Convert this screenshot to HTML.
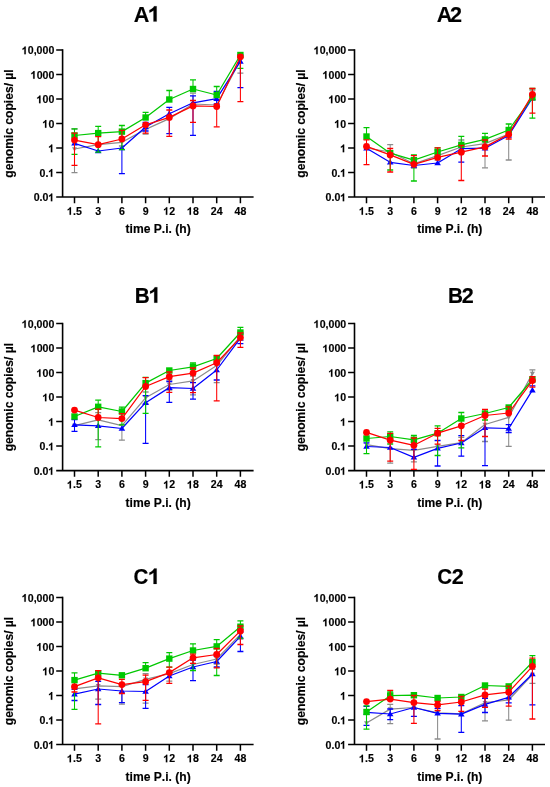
<!DOCTYPE html><html><head><meta charset="utf-8"><style>html,body{margin:0;padding:0;background:#fff;}svg{display:block;will-change:transform;}text{font-family:'Liberation Sans',sans-serif;font-weight:bold;fill:#000;font-kerning:none;stroke:#000;stroke-width:0.15px;}path.o{stroke:#000;stroke-width:0.15px;vector-effect:non-scaling-stroke;}</style></head><body>
<svg width="550" height="787" viewBox="0 0 550 787">
<rect width="550" height="787" fill="#fff"/>
<g><g transform="translate(134.4,21.6) scale(1.0,1.04)"><text x="-0.54" y="0" font-size="21.6">A</text></g><path class="o" d="M367 0H230V517Q155 447 53 413V538Q106 555 169 604Q232 653 256 716H367Z" transform="translate(148.18,21.6) scale(0.02311,-0.02159)"/><path d="M62.6 49.2V197" stroke="#000" stroke-width="1.6" fill="none"/><path d="M56.2 197H253.6" stroke="#000" stroke-width="1.6" fill="none"/><path d="M56.2 50H62.6M56.2 74.5H62.6M56.2 99H62.6M56.2 123.5H62.6M56.2 148H62.6M56.2 172.5H62.6M74.5 197V203.2M98.2 197V203.2M121.9 197V203.2M145.6 197V203.2M169.3 197V203.2M193 197V203.2M216.7 197V203.2M240.4 197V203.2" stroke="#000" stroke-width="1.5" fill="none"/><g transform="translate(54.3,54.2) scale(1,1.04)"><text x="-32.41" y="0" font-size="10.6"> 0,000</text><path class="o" d="M367 0H230V517Q155 447 53 413V538Q106 555 169 604Q232 653 256 716H367Z" transform="translate(-32.41,0) scale(0.01060,-0.01019)"/></g><g transform="translate(54.3,78.7) scale(1,1.04)"><text x="-23.57" y="0" font-size="10.6"> 000</text><path class="o" d="M367 0H230V517Q155 447 53 413V538Q106 555 169 604Q232 653 256 716H367Z" transform="translate(-23.57,0) scale(0.01060,-0.01019)"/></g><g transform="translate(54.3,103.2) scale(1,1.04)"><text x="-17.68" y="0" font-size="10.6"> 00</text><path class="o" d="M367 0H230V517Q155 447 53 413V538Q106 555 169 604Q232 653 256 716H367Z" transform="translate(-17.68,0) scale(0.01060,-0.01019)"/></g><g transform="translate(54.3,127.7) scale(1,1.04)"><text x="-11.79" y="0" font-size="10.6"> 0</text><path class="o" d="M367 0H230V517Q155 447 53 413V538Q106 555 169 604Q232 653 256 716H367Z" transform="translate(-11.79,0) scale(0.01060,-0.01019)"/></g><g transform="translate(54.3,152.2) scale(1,1.04)"><text x="-5.89" y="0" font-size="10.6"> </text><path class="o" d="M367 0H230V517Q155 447 53 413V538Q106 555 169 604Q232 653 256 716H367Z" transform="translate(-5.89,0) scale(0.01060,-0.01019)"/></g><g transform="translate(54.3,176.7) scale(1,1.04)"><text x="-14.73" y="0" font-size="10.6">0. </text><path class="o" d="M367 0H230V517Q155 447 53 413V538Q106 555 169 604Q232 653 256 716H367Z" transform="translate(-5.89,0) scale(0.01060,-0.01019)"/></g><g transform="translate(54.3,201.2) scale(1,1.04)"><text x="-20.63" y="0" font-size="10.6">0.0 </text><path class="o" d="M367 0H230V517Q155 447 53 413V538Q106 555 169 604Q232 653 256 716H367Z" transform="translate(-5.89,0) scale(0.01060,-0.01019)"/></g><g transform="translate(74.5,214.8) scale(1,1.04)"><text x="-7.37" y="0" font-size="10.6"> .5</text><path class="o" d="M367 0H230V517Q155 447 53 413V538Q106 555 169 604Q232 653 256 716H367Z" transform="translate(-7.37,0) scale(0.01060,-0.01019)"/></g><g transform="translate(98.2,214.8) scale(1,1.04)"><text x="-2.95" y="0" font-size="10.6">3</text></g><g transform="translate(121.9,214.8) scale(1,1.04)"><text x="-2.95" y="0" font-size="10.6">6</text></g><g transform="translate(145.6,214.8) scale(1,1.04)"><text x="-2.95" y="0" font-size="10.6">9</text></g><g transform="translate(169.3,214.8) scale(1,1.04)"><text x="-5.89" y="0" font-size="10.6"> 2</text><path class="o" d="M367 0H230V517Q155 447 53 413V538Q106 555 169 604Q232 653 256 716H367Z" transform="translate(-5.89,0) scale(0.01060,-0.01019)"/></g><g transform="translate(193,214.8) scale(1,1.04)"><text x="-5.89" y="0" font-size="10.6"> 8</text><path class="o" d="M367 0H230V517Q155 447 53 413V538Q106 555 169 604Q232 653 256 716H367Z" transform="translate(-5.89,0) scale(0.01060,-0.01019)"/></g><g transform="translate(216.7,214.8) scale(1,1.04)"><text x="-5.89" y="0" font-size="10.6">24</text></g><g transform="translate(240.4,214.8) scale(1,1.04)"><text x="-5.89" y="0" font-size="10.6">48</text></g><text x="0" y="0" font-size="12.1" text-anchor="middle" transform="translate(158.1,233) scale(1,1.04)">time P.i. (h)</text><text x="0" y="0" font-size="12.1" text-anchor="middle" transform="translate(13.1,123.5) rotate(-90) scale(1,1.04)">genomic copies/ µl</text><path d="M74.5 149V129 M74.5 149V172.7 M121.9 142.3V138 M121.9 142.3V146 M145.6 129.4V125 M145.6 129.4V134 M193 104V93.2 M216.7 105V100 M240.4 60V73.2" stroke="#8c8c8c" stroke-width="1.05" fill="none"/><path d="M71.5 129H77.5 M71.5 172.7H77.5 M118.9 138H124.9 M118.9 146H124.9 M142.6 125H148.6 M142.6 134H148.6 M190 93.2H196 M213.7 100H219.7 M237.4 73.2H243.4" stroke="#8c8c8c" stroke-width="1.3" fill="none"/><polyline points="74.5,149 98.2,144.7 121.9,142.3 145.6,129.4 169.3,118.6 193,104 216.7,105 240.4,60" stroke="#8c8c8c" stroke-width="1.25" fill="none" stroke-linejoin="round"/><path d="M72 147.2L77 147.2L74.5 151.4Z" fill="#8c8c8c"/><path d="M95.7 142.9L100.7 142.9L98.2 147.1Z" fill="#8c8c8c"/><path d="M119.4 140.5L124.4 140.5L121.9 144.7Z" fill="#8c8c8c"/><path d="M143.1 127.6L148.1 127.6L145.6 131.8Z" fill="#8c8c8c"/><path d="M166.8 116.8L171.8 116.8L169.3 121Z" fill="#8c8c8c"/><path d="M190.5 102.2L195.5 102.2L193 106.4Z" fill="#8c8c8c"/><path d="M214.2 103.2L219.2 103.2L216.7 107.4Z" fill="#8c8c8c"/><path d="M237.9 58.2L242.9 58.2L240.4 62.4Z" fill="#8c8c8c"/><path d="M121.9 148V173.6 M145.6 127V122.5 M145.6 127V131 M169.3 113.7V107.4 M169.3 113.7V133.7 M193 102.8V95.9 M193 102.8V135.4 M216.7 98.6V91.4 M216.7 98.6V104 M240.4 61.4V55 M240.4 61.4V87.7" stroke="#0000ff" stroke-width="1.05" fill="none"/><path d="M118.9 173.6H124.9 M142.6 122.5H148.6 M142.6 131H148.6 M166.3 107.4H172.3 M166.3 133.7H172.3 M190 95.9H196 M190 135.4H196 M213.7 91.4H219.7 M213.7 104H219.7 M237.4 55H243.4 M237.4 87.7H243.4" stroke="#0000ff" stroke-width="1.3" fill="none"/><polyline points="74.5,143.3 98.2,151 121.9,148 145.6,127 169.3,113.7 193,102.8 216.7,98.6 240.4,61.4" stroke="#0000ff" stroke-width="1.25" fill="none" stroke-linejoin="round"/><path d="M74.5 140.2L77.8 145.6L71.2 145.6Z" fill="#0000ff"/><path d="M98.2 147.9L101.5 153.3L94.9 153.3Z" fill="#0000ff"/><path d="M121.9 144.9L125.2 150.3L118.6 150.3Z" fill="#0000ff"/><path d="M145.6 123.9L148.9 129.3L142.3 129.3Z" fill="#0000ff"/><path d="M169.3 110.6L172.6 116L166 116Z" fill="#0000ff"/><path d="M193 99.7L196.3 105.1L189.7 105.1Z" fill="#0000ff"/><path d="M216.7 95.5L220 100.9L213.4 100.9Z" fill="#0000ff"/><path d="M240.4 58.3L243.7 63.7L237.1 63.7Z" fill="#0000ff"/><path d="M74.5 135.5V128.8 M74.5 135.5V154.3 M98.2 133.1V126.4 M98.2 133.1V152.2 M121.9 131.6V125.5 M121.9 131.6V149.6 M145.6 117.5V112.3 M169.3 99.5V90.5 M193 89V79.9 M216.7 95V86.5 M240.4 55V68.3" stroke="#00c800" stroke-width="1.05" fill="none"/><path d="M71.5 128.8H77.5 M71.5 154.3H77.5 M95.2 126.4H101.2 M95.2 152.2H101.2 M118.9 125.5H124.9 M118.9 149.6H124.9 M142.6 112.3H148.6 M166.3 90.5H172.3 M190 79.9H196 M213.7 86.5H219.7 M237.4 68.3H243.4" stroke="#00c800" stroke-width="1.3" fill="none"/><polyline points="74.5,135.5 98.2,133.1 121.9,131.6 145.6,117.5 169.3,99.5 193,89 216.7,95 240.4,55" stroke="#00c800" stroke-width="1.25" fill="none" stroke-linejoin="round"/><rect x="71.3" y="132.3" width="6.4" height="6.4" fill="#00c800"/><rect x="95" y="129.9" width="6.4" height="6.4" fill="#00c800"/><rect x="118.7" y="128.4" width="6.4" height="6.4" fill="#00c800"/><rect x="142.4" y="114.3" width="6.4" height="6.4" fill="#00c800"/><rect x="166.1" y="96.3" width="6.4" height="6.4" fill="#00c800"/><rect x="189.8" y="85.8" width="6.4" height="6.4" fill="#00c800"/><rect x="213.5" y="91.8" width="6.4" height="6.4" fill="#00c800"/><rect x="237.2" y="51.8" width="6.4" height="6.4" fill="#00c800"/><path d="M74.5 140.1V133.2 M74.5 140.1V165.4 M98.2 144.7V136.6 M121.9 139V130.4 M145.6 124.8V133.2 M169.3 117.4V110 M169.3 117.4V136.3 M193 105.9V100.5 M193 105.9V122.3 M216.7 106.5V126.8 M240.4 56.8V101.7" stroke="#ff0000" stroke-width="1.05" fill="none"/><path d="M71.5 133.2H77.5 M71.5 165.4H77.5 M95.2 136.6H101.2 M118.9 130.4H124.9 M142.6 133.2H148.6 M166.3 110H172.3 M166.3 136.3H172.3 M190 100.5H196 M190 122.3H196 M213.7 126.8H219.7 M237.4 101.7H243.4" stroke="#ff0000" stroke-width="1.3" fill="none"/><polyline points="74.5,140.1 98.2,144.7 121.9,139 145.6,124.8 169.3,117.4 193,105.9 216.7,106.5 240.4,56.8" stroke="#ff0000" stroke-width="1.25" fill="none" stroke-linejoin="round"/><circle cx="74.5" cy="140.1" r="3.4" fill="#ff0000"/><circle cx="98.2" cy="144.7" r="3.4" fill="#ff0000"/><circle cx="121.9" cy="139" r="3.4" fill="#ff0000"/><circle cx="145.6" cy="124.8" r="3.4" fill="#ff0000"/><circle cx="169.3" cy="117.4" r="3.4" fill="#ff0000"/><circle cx="193" cy="105.9" r="3.4" fill="#ff0000"/><circle cx="216.7" cy="106.5" r="3.4" fill="#ff0000"/><circle cx="240.4" cy="56.8" r="3.4" fill="#ff0000"/></g>
<g><g transform="translate(437.2,21.7) scale(1.0,1.04)"><text x="-0.54" y="0" font-size="21.6">A</text></g><g transform="translate(450.8,21.7) scale(1,1.04)"><text x="-0.76" y="0" font-size="21.6">2</text></g><path d="M354.5 49.2V197" stroke="#000" stroke-width="1.6" fill="none"/><path d="M348.1 197H545" stroke="#000" stroke-width="1.6" fill="none"/><path d="M348.1 50H354.5M348.1 74.5H354.5M348.1 99H354.5M348.1 123.5H354.5M348.1 148H354.5M348.1 172.5H354.5M366.5 197V203.2M390.2 197V203.2M413.9 197V203.2M437.6 197V203.2M461.3 197V203.2M485 197V203.2M508.7 197V203.2M532.4 197V203.2" stroke="#000" stroke-width="1.5" fill="none"/><g transform="translate(346.2,54.2) scale(1,1.04)"><text x="-32.41" y="0" font-size="10.6"> 0,000</text><path class="o" d="M367 0H230V517Q155 447 53 413V538Q106 555 169 604Q232 653 256 716H367Z" transform="translate(-32.41,0) scale(0.01060,-0.01019)"/></g><g transform="translate(346.2,78.7) scale(1,1.04)"><text x="-23.57" y="0" font-size="10.6"> 000</text><path class="o" d="M367 0H230V517Q155 447 53 413V538Q106 555 169 604Q232 653 256 716H367Z" transform="translate(-23.57,0) scale(0.01060,-0.01019)"/></g><g transform="translate(346.2,103.2) scale(1,1.04)"><text x="-17.68" y="0" font-size="10.6"> 00</text><path class="o" d="M367 0H230V517Q155 447 53 413V538Q106 555 169 604Q232 653 256 716H367Z" transform="translate(-17.68,0) scale(0.01060,-0.01019)"/></g><g transform="translate(346.2,127.7) scale(1,1.04)"><text x="-11.79" y="0" font-size="10.6"> 0</text><path class="o" d="M367 0H230V517Q155 447 53 413V538Q106 555 169 604Q232 653 256 716H367Z" transform="translate(-11.79,0) scale(0.01060,-0.01019)"/></g><g transform="translate(346.2,152.2) scale(1,1.04)"><text x="-5.89" y="0" font-size="10.6"> </text><path class="o" d="M367 0H230V517Q155 447 53 413V538Q106 555 169 604Q232 653 256 716H367Z" transform="translate(-5.89,0) scale(0.01060,-0.01019)"/></g><g transform="translate(346.2,176.7) scale(1,1.04)"><text x="-14.73" y="0" font-size="10.6">0. </text><path class="o" d="M367 0H230V517Q155 447 53 413V538Q106 555 169 604Q232 653 256 716H367Z" transform="translate(-5.89,0) scale(0.01060,-0.01019)"/></g><g transform="translate(346.2,201.2) scale(1,1.04)"><text x="-20.63" y="0" font-size="10.6">0.0 </text><path class="o" d="M367 0H230V517Q155 447 53 413V538Q106 555 169 604Q232 653 256 716H367Z" transform="translate(-5.89,0) scale(0.01060,-0.01019)"/></g><g transform="translate(366.5,214.8) scale(1,1.04)"><text x="-7.37" y="0" font-size="10.6"> .5</text><path class="o" d="M367 0H230V517Q155 447 53 413V538Q106 555 169 604Q232 653 256 716H367Z" transform="translate(-7.37,0) scale(0.01060,-0.01019)"/></g><g transform="translate(390.2,214.8) scale(1,1.04)"><text x="-2.95" y="0" font-size="10.6">3</text></g><g transform="translate(413.9,214.8) scale(1,1.04)"><text x="-2.95" y="0" font-size="10.6">6</text></g><g transform="translate(437.6,214.8) scale(1,1.04)"><text x="-2.95" y="0" font-size="10.6">9</text></g><g transform="translate(461.3,214.8) scale(1,1.04)"><text x="-5.89" y="0" font-size="10.6"> 2</text><path class="o" d="M367 0H230V517Q155 447 53 413V538Q106 555 169 604Q232 653 256 716H367Z" transform="translate(-5.89,0) scale(0.01060,-0.01019)"/></g><g transform="translate(485,214.8) scale(1,1.04)"><text x="-5.89" y="0" font-size="10.6"> 8</text><path class="o" d="M367 0H230V517Q155 447 53 413V538Q106 555 169 604Q232 653 256 716H367Z" transform="translate(-5.89,0) scale(0.01060,-0.01019)"/></g><g transform="translate(508.7,214.8) scale(1,1.04)"><text x="-5.89" y="0" font-size="10.6">24</text></g><g transform="translate(532.4,214.8) scale(1,1.04)"><text x="-5.89" y="0" font-size="10.6">48</text></g><text x="0" y="0" font-size="12.1" text-anchor="middle" transform="translate(449.75,233) scale(1,1.04)">time P.i. (h)</text><text x="0" y="0" font-size="12.1" text-anchor="middle" transform="translate(305,123.5) rotate(-90) scale(1,1.04)">genomic copies/ µl</text><path d="M390.2 152V144.7 M413.9 163.8V158 M413.9 163.8V168 M437.6 155.6V150 M437.6 155.6V160 M461.3 147V140 M461.3 147V152 M485 143.6V167.8 M508.7 134V160 M532.4 96V90 M532.4 96V100" stroke="#8c8c8c" stroke-width="1.05" fill="none"/><path d="M387.2 144.7H393.2 M410.9 158H416.9 M410.9 168H416.9 M434.6 150H440.6 M434.6 160H440.6 M458.3 140H464.3 M458.3 152H464.3 M482 167.8H488 M505.7 160H511.7 M529.4 90H535.4 M529.4 100H535.4" stroke="#8c8c8c" stroke-width="1.3" fill="none"/><polyline points="366.5,148 390.2,152 413.9,163.8 437.6,155.6 461.3,147 485,143.6 508.7,134 532.4,96" stroke="#8c8c8c" stroke-width="1.25" fill="none" stroke-linejoin="round"/><path d="M364 146.2L369 146.2L366.5 150.4Z" fill="#8c8c8c"/><path d="M387.7 150.2L392.7 150.2L390.2 154.4Z" fill="#8c8c8c"/><path d="M411.4 162L416.4 162L413.9 166.2Z" fill="#8c8c8c"/><path d="M435.1 153.8L440.1 153.8L437.6 158Z" fill="#8c8c8c"/><path d="M458.8 145.2L463.8 145.2L461.3 149.4Z" fill="#8c8c8c"/><path d="M482.5 141.8L487.5 141.8L485 146Z" fill="#8c8c8c"/><path d="M506.2 132.2L511.2 132.2L508.7 136.4Z" fill="#8c8c8c"/><path d="M529.9 94.2L534.9 94.2L532.4 98.4Z" fill="#8c8c8c"/><path d="M461.3 148.7V145 M461.3 148.7V162.2 M532.4 98V94" stroke="#0000ff" stroke-width="1.05" fill="none"/><path d="M458.3 145H464.3 M458.3 162.2H464.3 M529.4 94H535.4" stroke="#0000ff" stroke-width="1.3" fill="none"/><polyline points="366.5,148.3 390.2,162.3 413.9,165.5 437.6,163 461.3,148.7 485,148.2 508.7,135.5 532.4,98" stroke="#0000ff" stroke-width="1.25" fill="none" stroke-linejoin="round"/><path d="M366.5 145.2L369.8 150.6L363.2 150.6Z" fill="#0000ff"/><path d="M390.2 159.2L393.5 164.6L386.9 164.6Z" fill="#0000ff"/><path d="M413.9 162.4L417.2 167.8L410.6 167.8Z" fill="#0000ff"/><path d="M437.6 159.9L440.9 165.3L434.3 165.3Z" fill="#0000ff"/><path d="M461.3 145.6L464.6 151L458 151Z" fill="#0000ff"/><path d="M485 145.1L488.3 150.5L481.7 150.5Z" fill="#0000ff"/><path d="M508.7 132.4L512 137.8L505.4 137.8Z" fill="#0000ff"/><path d="M532.4 94.9L535.7 100.3L529.1 100.3Z" fill="#0000ff"/><path d="M366.5 136.5V127.6 M390.2 153.2V170 M413.9 160.2V154.8 M413.9 160.2V181 M437.6 152V147.8 M437.6 152V156 M461.3 144.9V136.3 M485 139.4V133.4 M508.7 130V124 M532.4 97.3V88.5 M532.4 97.3V118.2" stroke="#00c800" stroke-width="1.05" fill="none"/><path d="M363.5 127.6H369.5 M387.2 170H393.2 M410.9 154.8H416.9 M410.9 181H416.9 M434.6 147.8H440.6 M434.6 156H440.6 M458.3 136.3H464.3 M482 133.4H488 M505.7 124H511.7 M529.4 88.5H535.4 M529.4 118.2H535.4" stroke="#00c800" stroke-width="1.3" fill="none"/><polyline points="366.5,136.5 390.2,153.2 413.9,160.2 437.6,152 461.3,144.9 485,139.4 508.7,130 532.4,97.3" stroke="#00c800" stroke-width="1.25" fill="none" stroke-linejoin="round"/><rect x="363.3" y="133.3" width="6.4" height="6.4" fill="#00c800"/><rect x="387" y="150" width="6.4" height="6.4" fill="#00c800"/><rect x="410.7" y="157" width="6.4" height="6.4" fill="#00c800"/><rect x="434.4" y="148.8" width="6.4" height="6.4" fill="#00c800"/><rect x="458.1" y="141.7" width="6.4" height="6.4" fill="#00c800"/><rect x="481.8" y="136.2" width="6.4" height="6.4" fill="#00c800"/><rect x="505.5" y="126.8" width="6.4" height="6.4" fill="#00c800"/><rect x="529.2" y="94.1" width="6.4" height="6.4" fill="#00c800"/><path d="M366.5 146.4V139.9 M366.5 146.4V164.6 M390.2 154.9V148.5 M390.2 154.9V172 M413.9 164.3V155.6 M437.6 157.4V147.8 M461.3 152.2V145.5 M461.3 152.2V180.5 M485 146.9V140 M485 146.9V156 M508.7 134.4V139 M532.4 94.5V88.5 M532.4 94.5V113.1" stroke="#ff0000" stroke-width="1.05" fill="none"/><path d="M363.5 139.9H369.5 M363.5 164.6H369.5 M387.2 148.5H393.2 M387.2 172H393.2 M410.9 155.6H416.9 M434.6 147.8H440.6 M458.3 145.5H464.3 M458.3 180.5H464.3 M482 140H488 M482 156H488 M505.7 139H511.7 M529.4 88.5H535.4 M529.4 113.1H535.4" stroke="#ff0000" stroke-width="1.3" fill="none"/><polyline points="366.5,146.4 390.2,154.9 413.9,164.3 437.6,157.4 461.3,152.2 485,146.9 508.7,134.4 532.4,94.5" stroke="#ff0000" stroke-width="1.25" fill="none" stroke-linejoin="round"/><circle cx="366.5" cy="146.4" r="3.4" fill="#ff0000"/><circle cx="390.2" cy="154.9" r="3.4" fill="#ff0000"/><circle cx="413.9" cy="164.3" r="3.4" fill="#ff0000"/><circle cx="437.6" cy="157.4" r="3.4" fill="#ff0000"/><circle cx="461.3" cy="152.2" r="3.4" fill="#ff0000"/><circle cx="485" cy="146.9" r="3.4" fill="#ff0000"/><circle cx="508.7" cy="134.4" r="3.4" fill="#ff0000"/><circle cx="532.4" cy="94.5" r="3.4" fill="#ff0000"/></g>
<g><g transform="translate(136.1,302.7) scale(0.96,1.04)"><text x="-1.45" y="0" font-size="21.6">B</text></g><path class="o" d="M367 0H230V517Q155 447 53 413V538Q106 555 169 604Q232 653 256 716H367Z" transform="translate(148.88,302.7) scale(0.02311,-0.02159)"/><path d="M62.6 322.8V470.6" stroke="#000" stroke-width="1.6" fill="none"/><path d="M56.2 470.6H253.6" stroke="#000" stroke-width="1.6" fill="none"/><path d="M56.2 323.6H62.6M56.2 348.1H62.6M56.2 372.6H62.6M56.2 397.1H62.6M56.2 421.6H62.6M56.2 446.1H62.6M74.5 470.6V476.8M98.2 470.6V476.8M121.9 470.6V476.8M145.6 470.6V476.8M169.3 470.6V476.8M193 470.6V476.8M216.7 470.6V476.8M240.4 470.6V476.8" stroke="#000" stroke-width="1.5" fill="none"/><g transform="translate(54.3,327.8) scale(1,1.04)"><text x="-32.41" y="0" font-size="10.6"> 0,000</text><path class="o" d="M367 0H230V517Q155 447 53 413V538Q106 555 169 604Q232 653 256 716H367Z" transform="translate(-32.41,0) scale(0.01060,-0.01019)"/></g><g transform="translate(54.3,352.3) scale(1,1.04)"><text x="-23.57" y="0" font-size="10.6"> 000</text><path class="o" d="M367 0H230V517Q155 447 53 413V538Q106 555 169 604Q232 653 256 716H367Z" transform="translate(-23.57,0) scale(0.01060,-0.01019)"/></g><g transform="translate(54.3,376.8) scale(1,1.04)"><text x="-17.68" y="0" font-size="10.6"> 00</text><path class="o" d="M367 0H230V517Q155 447 53 413V538Q106 555 169 604Q232 653 256 716H367Z" transform="translate(-17.68,0) scale(0.01060,-0.01019)"/></g><g transform="translate(54.3,401.3) scale(1,1.04)"><text x="-11.79" y="0" font-size="10.6"> 0</text><path class="o" d="M367 0H230V517Q155 447 53 413V538Q106 555 169 604Q232 653 256 716H367Z" transform="translate(-11.79,0) scale(0.01060,-0.01019)"/></g><g transform="translate(54.3,425.8) scale(1,1.04)"><text x="-5.89" y="0" font-size="10.6"> </text><path class="o" d="M367 0H230V517Q155 447 53 413V538Q106 555 169 604Q232 653 256 716H367Z" transform="translate(-5.89,0) scale(0.01060,-0.01019)"/></g><g transform="translate(54.3,450.3) scale(1,1.04)"><text x="-14.73" y="0" font-size="10.6">0. </text><path class="o" d="M367 0H230V517Q155 447 53 413V538Q106 555 169 604Q232 653 256 716H367Z" transform="translate(-5.89,0) scale(0.01060,-0.01019)"/></g><g transform="translate(54.3,474.8) scale(1,1.04)"><text x="-20.63" y="0" font-size="10.6">0.0 </text><path class="o" d="M367 0H230V517Q155 447 53 413V538Q106 555 169 604Q232 653 256 716H367Z" transform="translate(-5.89,0) scale(0.01060,-0.01019)"/></g><g transform="translate(74.5,488.4) scale(1,1.04)"><text x="-7.37" y="0" font-size="10.6"> .5</text><path class="o" d="M367 0H230V517Q155 447 53 413V538Q106 555 169 604Q232 653 256 716H367Z" transform="translate(-7.37,0) scale(0.01060,-0.01019)"/></g><g transform="translate(98.2,488.4) scale(1,1.04)"><text x="-2.95" y="0" font-size="10.6">3</text></g><g transform="translate(121.9,488.4) scale(1,1.04)"><text x="-2.95" y="0" font-size="10.6">6</text></g><g transform="translate(145.6,488.4) scale(1,1.04)"><text x="-2.95" y="0" font-size="10.6">9</text></g><g transform="translate(169.3,488.4) scale(1,1.04)"><text x="-5.89" y="0" font-size="10.6"> 2</text><path class="o" d="M367 0H230V517Q155 447 53 413V538Q106 555 169 604Q232 653 256 716H367Z" transform="translate(-5.89,0) scale(0.01060,-0.01019)"/></g><g transform="translate(193,488.4) scale(1,1.04)"><text x="-5.89" y="0" font-size="10.6"> 8</text><path class="o" d="M367 0H230V517Q155 447 53 413V538Q106 555 169 604Q232 653 256 716H367Z" transform="translate(-5.89,0) scale(0.01060,-0.01019)"/></g><g transform="translate(216.7,488.4) scale(1,1.04)"><text x="-5.89" y="0" font-size="10.6">24</text></g><g transform="translate(240.4,488.4) scale(1,1.04)"><text x="-5.89" y="0" font-size="10.6">48</text></g><text x="0" y="0" font-size="12.1" text-anchor="middle" transform="translate(158.1,506.6) scale(1,1.04)">time P.i. (h)</text><text x="0" y="0" font-size="12.1" text-anchor="middle" transform="translate(13.1,397.1) rotate(-90) scale(1,1.04)">genomic copies/ µl</text><path d="M98.2 419.9V412.6 M98.2 419.9V439.7 M121.9 425.6V440.2 M145.6 397.8V392 M145.6 397.8V404 M169.3 384.5V380 M169.3 384.5V390 M193 380.9V376 M193 380.9V394.9 M216.7 365.5V360 M216.7 365.5V382.7 M240.4 336.4V332 M240.4 336.4V340" stroke="#8c8c8c" stroke-width="1.05" fill="none"/><path d="M95.2 412.6H101.2 M95.2 439.7H101.2 M118.9 440.2H124.9 M142.6 392H148.6 M142.6 404H148.6 M166.3 380H172.3 M166.3 390H172.3 M190 376H196 M190 394.9H196 M213.7 360H219.7 M213.7 382.7H219.7 M237.4 332H243.4 M237.4 340H243.4" stroke="#8c8c8c" stroke-width="1.3" fill="none"/><polyline points="74.5,425.6 98.2,419.9 121.9,425.6 145.6,397.8 169.3,384.5 193,380.9 216.7,365.5 240.4,336.4" stroke="#8c8c8c" stroke-width="1.25" fill="none" stroke-linejoin="round"/><path d="M72 423.8L77 423.8L74.5 428Z" fill="#8c8c8c"/><path d="M95.7 418.1L100.7 418.1L98.2 422.3Z" fill="#8c8c8c"/><path d="M119.4 423.8L124.4 423.8L121.9 428Z" fill="#8c8c8c"/><path d="M143.1 396L148.1 396L145.6 400.2Z" fill="#8c8c8c"/><path d="M166.8 382.7L171.8 382.7L169.3 386.9Z" fill="#8c8c8c"/><path d="M190.5 379.1L195.5 379.1L193 383.3Z" fill="#8c8c8c"/><path d="M214.2 363.7L219.2 363.7L216.7 367.9Z" fill="#8c8c8c"/><path d="M237.9 334.6L242.9 334.6L240.4 338.8Z" fill="#8c8c8c"/><path d="M74.5 424.8V419.5 M74.5 424.8V431.3 M145.6 402.7V395.7 M145.6 402.7V443.3 M169.3 387.6V381.5 M169.3 387.6V402.4 M193 388.5V382.7 M193 388.5V399.1 M216.7 370V364 M216.7 370V380 M240.4 338.2V334 M240.4 338.2V343.6" stroke="#0000ff" stroke-width="1.05" fill="none"/><path d="M71.5 419.5H77.5 M71.5 431.3H77.5 M142.6 395.7H148.6 M142.6 443.3H148.6 M166.3 381.5H172.3 M166.3 402.4H172.3 M190 382.7H196 M190 399.1H196 M213.7 364H219.7 M213.7 380H219.7 M237.4 334H243.4 M237.4 343.6H243.4" stroke="#0000ff" stroke-width="1.3" fill="none"/><polyline points="74.5,424.8 98.2,425.8 121.9,428.5 145.6,402.7 169.3,387.6 193,388.5 216.7,370 240.4,338.2" stroke="#0000ff" stroke-width="1.25" fill="none" stroke-linejoin="round"/><path d="M74.5 421.7L77.8 427.1L71.2 427.1Z" fill="#0000ff"/><path d="M98.2 422.7L101.5 428.1L94.9 428.1Z" fill="#0000ff"/><path d="M121.9 425.4L125.2 430.8L118.6 430.8Z" fill="#0000ff"/><path d="M145.6 399.6L148.9 405L142.3 405Z" fill="#0000ff"/><path d="M169.3 384.5L172.6 389.9L166 389.9Z" fill="#0000ff"/><path d="M193 385.4L196.3 390.8L189.7 390.8Z" fill="#0000ff"/><path d="M216.7 366.9L220 372.3L213.4 372.3Z" fill="#0000ff"/><path d="M240.4 335.1L243.7 340.5L237.1 340.5Z" fill="#0000ff"/><path d="M98.2 406.8V400.2 M98.2 406.8V446.9 M121.9 411.5V407.1 M121.9 411.5V424.9 M145.6 383.1V377.4 M145.6 383.1V413.4 M193 366.9V363 M240.4 332.5V327.3" stroke="#00c800" stroke-width="1.05" fill="none"/><path d="M95.2 400.2H101.2 M95.2 446.9H101.2 M118.9 407.1H124.9 M118.9 424.9H124.9 M142.6 377.4H148.6 M142.6 413.4H148.6 M190 363H196 M237.4 327.3H243.4" stroke="#00c800" stroke-width="1.3" fill="none"/><polyline points="74.5,416.5 98.2,406.8 121.9,411.5 145.6,383.1 169.3,370.5 193,366.9 216.7,358.5 240.4,332.5" stroke="#00c800" stroke-width="1.25" fill="none" stroke-linejoin="round"/><rect x="71.3" y="413.3" width="6.4" height="6.4" fill="#00c800"/><rect x="95" y="403.6" width="6.4" height="6.4" fill="#00c800"/><rect x="118.7" y="408.3" width="6.4" height="6.4" fill="#00c800"/><rect x="142.4" y="379.9" width="6.4" height="6.4" fill="#00c800"/><rect x="166.1" y="367.3" width="6.4" height="6.4" fill="#00c800"/><rect x="189.8" y="363.7" width="6.4" height="6.4" fill="#00c800"/><rect x="213.5" y="355.3" width="6.4" height="6.4" fill="#00c800"/><rect x="237.2" y="329.3" width="6.4" height="6.4" fill="#00c800"/><path d="M98.2 417.5V409.1 M121.9 418.6V413.7 M145.6 386.5V377.6 M169.3 376.7V372 M169.3 376.7V392.4 M193 373.1V368 M193 373.1V392.6 M216.7 362.7V355.5 M216.7 362.7V400.9 M240.4 337.6V333 M240.4 337.6V347.3" stroke="#ff0000" stroke-width="1.05" fill="none"/><path d="M95.2 409.1H101.2 M118.9 413.7H124.9 M142.6 377.6H148.6 M166.3 372H172.3 M166.3 392.4H172.3 M190 368H196 M190 392.6H196 M213.7 355.5H219.7 M213.7 400.9H219.7 M237.4 333H243.4 M237.4 347.3H243.4" stroke="#ff0000" stroke-width="1.3" fill="none"/><polyline points="74.5,410.1 98.2,417.5 121.9,418.6 145.6,386.5 169.3,376.7 193,373.1 216.7,362.7 240.4,337.6" stroke="#ff0000" stroke-width="1.25" fill="none" stroke-linejoin="round"/><circle cx="74.5" cy="410.1" r="3.4" fill="#ff0000"/><circle cx="98.2" cy="417.5" r="3.4" fill="#ff0000"/><circle cx="121.9" cy="418.6" r="3.4" fill="#ff0000"/><circle cx="145.6" cy="386.5" r="3.4" fill="#ff0000"/><circle cx="169.3" cy="376.7" r="3.4" fill="#ff0000"/><circle cx="193" cy="373.1" r="3.4" fill="#ff0000"/><circle cx="216.7" cy="362.7" r="3.4" fill="#ff0000"/><circle cx="240.4" cy="337.6" r="3.4" fill="#ff0000"/></g>
<g><g transform="translate(449.3,302.6) scale(0.96,1.04)"><text x="-1.45" y="0" font-size="21.6">B</text></g><g transform="translate(462.6,302.6) scale(1,1.04)"><text x="-0.76" y="0" font-size="21.6">2</text></g><path d="M354.5 322.8V470.6" stroke="#000" stroke-width="1.6" fill="none"/><path d="M348.1 470.6H545" stroke="#000" stroke-width="1.6" fill="none"/><path d="M348.1 323.6H354.5M348.1 348.1H354.5M348.1 372.6H354.5M348.1 397.1H354.5M348.1 421.6H354.5M348.1 446.1H354.5M366.5 470.6V476.8M390.2 470.6V476.8M413.9 470.6V476.8M437.6 470.6V476.8M461.3 470.6V476.8M485 470.6V476.8M508.7 470.6V476.8M532.4 470.6V476.8" stroke="#000" stroke-width="1.5" fill="none"/><g transform="translate(346.2,327.8) scale(1,1.04)"><text x="-32.41" y="0" font-size="10.6"> 0,000</text><path class="o" d="M367 0H230V517Q155 447 53 413V538Q106 555 169 604Q232 653 256 716H367Z" transform="translate(-32.41,0) scale(0.01060,-0.01019)"/></g><g transform="translate(346.2,352.3) scale(1,1.04)"><text x="-23.57" y="0" font-size="10.6"> 000</text><path class="o" d="M367 0H230V517Q155 447 53 413V538Q106 555 169 604Q232 653 256 716H367Z" transform="translate(-23.57,0) scale(0.01060,-0.01019)"/></g><g transform="translate(346.2,376.8) scale(1,1.04)"><text x="-17.68" y="0" font-size="10.6"> 00</text><path class="o" d="M367 0H230V517Q155 447 53 413V538Q106 555 169 604Q232 653 256 716H367Z" transform="translate(-17.68,0) scale(0.01060,-0.01019)"/></g><g transform="translate(346.2,401.3) scale(1,1.04)"><text x="-11.79" y="0" font-size="10.6"> 0</text><path class="o" d="M367 0H230V517Q155 447 53 413V538Q106 555 169 604Q232 653 256 716H367Z" transform="translate(-11.79,0) scale(0.01060,-0.01019)"/></g><g transform="translate(346.2,425.8) scale(1,1.04)"><text x="-5.89" y="0" font-size="10.6"> </text><path class="o" d="M367 0H230V517Q155 447 53 413V538Q106 555 169 604Q232 653 256 716H367Z" transform="translate(-5.89,0) scale(0.01060,-0.01019)"/></g><g transform="translate(346.2,450.3) scale(1,1.04)"><text x="-14.73" y="0" font-size="10.6">0. </text><path class="o" d="M367 0H230V517Q155 447 53 413V538Q106 555 169 604Q232 653 256 716H367Z" transform="translate(-5.89,0) scale(0.01060,-0.01019)"/></g><g transform="translate(346.2,474.8) scale(1,1.04)"><text x="-20.63" y="0" font-size="10.6">0.0 </text><path class="o" d="M367 0H230V517Q155 447 53 413V538Q106 555 169 604Q232 653 256 716H367Z" transform="translate(-5.89,0) scale(0.01060,-0.01019)"/></g><g transform="translate(366.5,488.4) scale(1,1.04)"><text x="-7.37" y="0" font-size="10.6"> .5</text><path class="o" d="M367 0H230V517Q155 447 53 413V538Q106 555 169 604Q232 653 256 716H367Z" transform="translate(-7.37,0) scale(0.01060,-0.01019)"/></g><g transform="translate(390.2,488.4) scale(1,1.04)"><text x="-2.95" y="0" font-size="10.6">3</text></g><g transform="translate(413.9,488.4) scale(1,1.04)"><text x="-2.95" y="0" font-size="10.6">6</text></g><g transform="translate(437.6,488.4) scale(1,1.04)"><text x="-2.95" y="0" font-size="10.6">9</text></g><g transform="translate(461.3,488.4) scale(1,1.04)"><text x="-5.89" y="0" font-size="10.6"> 2</text><path class="o" d="M367 0H230V517Q155 447 53 413V538Q106 555 169 604Q232 653 256 716H367Z" transform="translate(-5.89,0) scale(0.01060,-0.01019)"/></g><g transform="translate(485,488.4) scale(1,1.04)"><text x="-5.89" y="0" font-size="10.6"> 8</text><path class="o" d="M367 0H230V517Q155 447 53 413V538Q106 555 169 604Q232 653 256 716H367Z" transform="translate(-5.89,0) scale(0.01060,-0.01019)"/></g><g transform="translate(508.7,488.4) scale(1,1.04)"><text x="-5.89" y="0" font-size="10.6">24</text></g><g transform="translate(532.4,488.4) scale(1,1.04)"><text x="-5.89" y="0" font-size="10.6">48</text></g><text x="0" y="0" font-size="12.1" text-anchor="middle" transform="translate(449.75,506.6) scale(1,1.04)">time P.i. (h)</text><text x="0" y="0" font-size="12.1" text-anchor="middle" transform="translate(305,397.1) rotate(-90) scale(1,1.04)">genomic copies/ µl</text><path d="M390.2 448.7V463.1 M413.9 450.4V461.8 M461.3 442.7V437.4 M485 424.5V441.5 M508.7 417.3V446.4 M532.4 373.6V369.9" stroke="#8c8c8c" stroke-width="1.05" fill="none"/><path d="M387.2 463.1H393.2 M410.9 461.8H416.9 M458.3 437.4H464.3 M482 441.5H488 M505.7 446.4H511.7 M529.4 369.9H535.4" stroke="#8c8c8c" stroke-width="1.3" fill="none"/><polyline points="366.5,444.6 390.2,448.7 413.9,450.4 437.6,446.3 461.3,442.7 485,424.5 508.7,417.3 532.4,373.6" stroke="#8c8c8c" stroke-width="1.25" fill="none" stroke-linejoin="round"/><path d="M364 442.8L369 442.8L366.5 447Z" fill="#8c8c8c"/><path d="M387.7 446.9L392.7 446.9L390.2 451.1Z" fill="#8c8c8c"/><path d="M411.4 448.6L416.4 448.6L413.9 452.8Z" fill="#8c8c8c"/><path d="M435.1 444.5L440.1 444.5L437.6 448.7Z" fill="#8c8c8c"/><path d="M458.8 440.9L463.8 440.9L461.3 445.1Z" fill="#8c8c8c"/><path d="M482.5 422.7L487.5 422.7L485 426.9Z" fill="#8c8c8c"/><path d="M506.2 415.5L511.2 415.5L508.7 419.7Z" fill="#8c8c8c"/><path d="M529.9 371.8L534.9 371.8L532.4 376Z" fill="#8c8c8c"/><path d="M366.5 446.5V442.9 M413.9 457.3V449.3 M437.6 448.3V440.5 M437.6 448.3V466 M461.3 443V435.6 M461.3 443V456.2 M485 427.8V465.6 M508.7 428.5V424.6 M508.7 428.5V432.5 M532.4 390.2V385.8" stroke="#0000ff" stroke-width="1.05" fill="none"/><path d="M363.5 442.9H369.5 M410.9 449.3H416.9 M434.6 440.5H440.6 M434.6 466H440.6 M458.3 435.6H464.3 M458.3 456.2H464.3 M482 465.6H488 M505.7 424.6H511.7 M505.7 432.5H511.7 M529.4 385.8H535.4" stroke="#0000ff" stroke-width="1.3" fill="none"/><polyline points="366.5,446.5 390.2,447.5 413.9,457.3 437.6,448.3 461.3,443 485,427.8 508.7,428.5 532.4,390.2" stroke="#0000ff" stroke-width="1.25" fill="none" stroke-linejoin="round"/><path d="M366.5 443.4L369.8 448.8L363.2 448.8Z" fill="#0000ff"/><path d="M390.2 444.4L393.5 449.8L386.9 449.8Z" fill="#0000ff"/><path d="M413.9 454.2L417.2 459.6L410.6 459.6Z" fill="#0000ff"/><path d="M437.6 445.2L440.9 450.6L434.3 450.6Z" fill="#0000ff"/><path d="M461.3 439.9L464.6 445.3L458 445.3Z" fill="#0000ff"/><path d="M485 424.7L488.3 430.1L481.7 430.1Z" fill="#0000ff"/><path d="M508.7 425.4L512 430.8L505.4 430.8Z" fill="#0000ff"/><path d="M532.4 387.1L535.7 392.5L529.1 392.5Z" fill="#0000ff"/><path d="M366.5 438.5V453.6 M390.2 436.5V431.8 M390.2 436.5V444 M413.9 439.8V435.5 M437.6 433.2V425.9 M437.6 433.2V455.5 M461.3 418.5V412.5 M461.3 418.5V447.8 M485 413.5V420" stroke="#00c800" stroke-width="1.05" fill="none"/><path d="M363.5 453.6H369.5 M387.2 431.8H393.2 M387.2 444H393.2 M410.9 435.5H416.9 M434.6 425.9H440.6 M434.6 455.5H440.6 M458.3 412.5H464.3 M458.3 447.8H464.3 M482 420H488" stroke="#00c800" stroke-width="1.3" fill="none"/><polyline points="366.5,438.5 390.2,436.5 413.9,439.8 437.6,433.2 461.3,418.5 485,413.5 508.7,407.5 532.4,379.5" stroke="#00c800" stroke-width="1.25" fill="none" stroke-linejoin="round"/><rect x="363.3" y="435.3" width="6.4" height="6.4" fill="#00c800"/><rect x="387" y="433.3" width="6.4" height="6.4" fill="#00c800"/><rect x="410.7" y="436.6" width="6.4" height="6.4" fill="#00c800"/><rect x="434.4" y="430" width="6.4" height="6.4" fill="#00c800"/><rect x="458.1" y="415.3" width="6.4" height="6.4" fill="#00c800"/><rect x="481.8" y="410.3" width="6.4" height="6.4" fill="#00c800"/><rect x="505.5" y="404.3" width="6.4" height="6.4" fill="#00c800"/><rect x="529.2" y="376.3" width="6.4" height="6.4" fill="#00c800"/><path d="M390.2 440.2V433.4 M390.2 440.2V461.2 M413.9 445.3V438 M413.9 445.3V469.3 M437.6 433.2V428.4 M437.6 433.2V444.2 M461.3 425.8V440.5 M485 415.5V409.3 M485 415.5V436.5 M508.7 413V406.9 M532.4 380.6V376.6 M532.4 380.6V387.2" stroke="#ff0000" stroke-width="1.05" fill="none"/><path d="M387.2 433.4H393.2 M387.2 461.2H393.2 M410.9 438H416.9 M410.9 469.3H416.9 M434.6 428.4H440.6 M434.6 444.2H440.6 M458.3 440.5H464.3 M482 409.3H488 M482 436.5H488 M505.7 406.9H511.7 M529.4 376.6H535.4 M529.4 387.2H535.4" stroke="#ff0000" stroke-width="1.3" fill="none"/><polyline points="366.5,432.4 390.2,440.2 413.9,445.3 437.6,433.2 461.3,425.8 485,415.5 508.7,413 532.4,380.6" stroke="#ff0000" stroke-width="1.25" fill="none" stroke-linejoin="round"/><circle cx="366.5" cy="432.4" r="3.4" fill="#ff0000"/><circle cx="390.2" cy="440.2" r="3.4" fill="#ff0000"/><circle cx="413.9" cy="445.3" r="3.4" fill="#ff0000"/><circle cx="437.6" cy="433.2" r="3.4" fill="#ff0000"/><circle cx="461.3" cy="425.8" r="3.4" fill="#ff0000"/><circle cx="485" cy="415.5" r="3.4" fill="#ff0000"/><circle cx="508.7" cy="413" r="3.4" fill="#ff0000"/><circle cx="532.4" cy="380.6" r="3.4" fill="#ff0000"/></g>
<g><g transform="translate(134.3,584) scale(0.95,1.04)"><text x="-0.89" y="0" font-size="21.6">C</text></g><path class="o" d="M367 0H230V517Q155 447 53 413V538Q106 555 169 604Q232 653 256 716H367Z" transform="translate(148.18,584) scale(0.02311,-0.02159)"/><path d="M62.6 596.7V744.5" stroke="#000" stroke-width="1.6" fill="none"/><path d="M56.2 744.5H253.6" stroke="#000" stroke-width="1.6" fill="none"/><path d="M56.2 597.5H62.6M56.2 622H62.6M56.2 646.5H62.6M56.2 671H62.6M56.2 695.5H62.6M56.2 720H62.6M74.5 744.5V750.7M98.2 744.5V750.7M121.9 744.5V750.7M145.6 744.5V750.7M169.3 744.5V750.7M193 744.5V750.7M216.7 744.5V750.7M240.4 744.5V750.7" stroke="#000" stroke-width="1.5" fill="none"/><g transform="translate(54.3,601.7) scale(1,1.04)"><text x="-32.41" y="0" font-size="10.6"> 0,000</text><path class="o" d="M367 0H230V517Q155 447 53 413V538Q106 555 169 604Q232 653 256 716H367Z" transform="translate(-32.41,0) scale(0.01060,-0.01019)"/></g><g transform="translate(54.3,626.2) scale(1,1.04)"><text x="-23.57" y="0" font-size="10.6"> 000</text><path class="o" d="M367 0H230V517Q155 447 53 413V538Q106 555 169 604Q232 653 256 716H367Z" transform="translate(-23.57,0) scale(0.01060,-0.01019)"/></g><g transform="translate(54.3,650.7) scale(1,1.04)"><text x="-17.68" y="0" font-size="10.6"> 00</text><path class="o" d="M367 0H230V517Q155 447 53 413V538Q106 555 169 604Q232 653 256 716H367Z" transform="translate(-17.68,0) scale(0.01060,-0.01019)"/></g><g transform="translate(54.3,675.2) scale(1,1.04)"><text x="-11.79" y="0" font-size="10.6"> 0</text><path class="o" d="M367 0H230V517Q155 447 53 413V538Q106 555 169 604Q232 653 256 716H367Z" transform="translate(-11.79,0) scale(0.01060,-0.01019)"/></g><g transform="translate(54.3,699.7) scale(1,1.04)"><text x="-5.89" y="0" font-size="10.6"> </text><path class="o" d="M367 0H230V517Q155 447 53 413V538Q106 555 169 604Q232 653 256 716H367Z" transform="translate(-5.89,0) scale(0.01060,-0.01019)"/></g><g transform="translate(54.3,724.2) scale(1,1.04)"><text x="-14.73" y="0" font-size="10.6">0. </text><path class="o" d="M367 0H230V517Q155 447 53 413V538Q106 555 169 604Q232 653 256 716H367Z" transform="translate(-5.89,0) scale(0.01060,-0.01019)"/></g><g transform="translate(54.3,748.7) scale(1,1.04)"><text x="-20.63" y="0" font-size="10.6">0.0 </text><path class="o" d="M367 0H230V517Q155 447 53 413V538Q106 555 169 604Q232 653 256 716H367Z" transform="translate(-5.89,0) scale(0.01060,-0.01019)"/></g><g transform="translate(74.5,762.3) scale(1,1.04)"><text x="-7.37" y="0" font-size="10.6"> .5</text><path class="o" d="M367 0H230V517Q155 447 53 413V538Q106 555 169 604Q232 653 256 716H367Z" transform="translate(-7.37,0) scale(0.01060,-0.01019)"/></g><g transform="translate(98.2,762.3) scale(1,1.04)"><text x="-2.95" y="0" font-size="10.6">3</text></g><g transform="translate(121.9,762.3) scale(1,1.04)"><text x="-2.95" y="0" font-size="10.6">6</text></g><g transform="translate(145.6,762.3) scale(1,1.04)"><text x="-2.95" y="0" font-size="10.6">9</text></g><g transform="translate(169.3,762.3) scale(1,1.04)"><text x="-5.89" y="0" font-size="10.6"> 2</text><path class="o" d="M367 0H230V517Q155 447 53 413V538Q106 555 169 604Q232 653 256 716H367Z" transform="translate(-5.89,0) scale(0.01060,-0.01019)"/></g><g transform="translate(193,762.3) scale(1,1.04)"><text x="-5.89" y="0" font-size="10.6"> 8</text><path class="o" d="M367 0H230V517Q155 447 53 413V538Q106 555 169 604Q232 653 256 716H367Z" transform="translate(-5.89,0) scale(0.01060,-0.01019)"/></g><g transform="translate(216.7,762.3) scale(1,1.04)"><text x="-5.89" y="0" font-size="10.6">24</text></g><g transform="translate(240.4,762.3) scale(1,1.04)"><text x="-5.89" y="0" font-size="10.6">48</text></g><text x="0" y="0" font-size="12.1" text-anchor="middle" transform="translate(158.1,780.5) scale(1,1.04)">time P.i. (h)</text><text x="0" y="0" font-size="12.1" text-anchor="middle" transform="translate(13.1,671) rotate(-90) scale(1,1.04)">genomic copies/ µl</text><path d="M98.2 685.8V699.1 M121.9 686.6V704.2 M145.6 679.3V673.7 M145.6 679.3V703.1 M169.3 673.6V681.2 M216.7 659V654 M216.7 659V664 M240.4 634.5V630 M240.4 634.5V639" stroke="#8c8c8c" stroke-width="1.05" fill="none"/><path d="M95.2 699.1H101.2 M118.9 704.2H124.9 M142.6 673.7H148.6 M142.6 703.1H148.6 M166.3 681.2H172.3 M213.7 654H219.7 M213.7 664H219.7 M237.4 630H243.4 M237.4 639H243.4" stroke="#8c8c8c" stroke-width="1.3" fill="none"/><polyline points="74.5,688.8 98.2,685.8 121.9,686.6 145.6,679.3 169.3,673.6 193,664.5 216.7,659 240.4,634.5" stroke="#8c8c8c" stroke-width="1.25" fill="none" stroke-linejoin="round"/><path d="M72 687L77 687L74.5 691.2Z" fill="#8c8c8c"/><path d="M95.7 684L100.7 684L98.2 688.2Z" fill="#8c8c8c"/><path d="M119.4 684.8L124.4 684.8L121.9 689Z" fill="#8c8c8c"/><path d="M143.1 677.5L148.1 677.5L145.6 681.7Z" fill="#8c8c8c"/><path d="M166.8 671.8L171.8 671.8L169.3 676Z" fill="#8c8c8c"/><path d="M190.5 662.7L195.5 662.7L193 666.9Z" fill="#8c8c8c"/><path d="M214.2 657.2L219.2 657.2L216.7 661.4Z" fill="#8c8c8c"/><path d="M237.9 632.7L242.9 632.7L240.4 636.9Z" fill="#8c8c8c"/><path d="M74.5 694.2V689.4 M74.5 694.2V700.5 M98.2 689V681.4 M98.2 689V704.5 M121.9 691V702.7 M145.6 691.5V684.6 M145.6 691.5V708.4 M193 667V660 M193 667V680.6 M216.7 661.5V656 M216.7 661.5V667 M240.4 636.4V632 M240.4 636.4V651.5" stroke="#0000ff" stroke-width="1.05" fill="none"/><path d="M71.5 689.4H77.5 M71.5 700.5H77.5 M95.2 681.4H101.2 M95.2 704.5H101.2 M118.9 702.7H124.9 M142.6 684.6H148.6 M142.6 708.4H148.6 M190 660H196 M190 680.6H196 M213.7 656H219.7 M213.7 667H219.7 M237.4 632H243.4 M237.4 651.5H243.4" stroke="#0000ff" stroke-width="1.3" fill="none"/><polyline points="74.5,694.2 98.2,689 121.9,691 145.6,691.5 169.3,676 193,667 216.7,661.5 240.4,636.4" stroke="#0000ff" stroke-width="1.25" fill="none" stroke-linejoin="round"/><path d="M74.5 691.1L77.8 696.5L71.2 696.5Z" fill="#0000ff"/><path d="M98.2 685.9L101.5 691.3L94.9 691.3Z" fill="#0000ff"/><path d="M121.9 687.9L125.2 693.3L118.6 693.3Z" fill="#0000ff"/><path d="M145.6 688.4L148.9 693.8L142.3 693.8Z" fill="#0000ff"/><path d="M169.3 672.9L172.6 678.3L166 678.3Z" fill="#0000ff"/><path d="M193 663.9L196.3 669.3L189.7 669.3Z" fill="#0000ff"/><path d="M216.7 658.4L220 663.8L213.4 663.8Z" fill="#0000ff"/><path d="M240.4 633.3L243.7 638.7L237.1 638.7Z" fill="#0000ff"/><path d="M74.5 680.1V672.9 M74.5 680.1V709.4 M145.6 668.2V662.6 M169.3 658.6V652.6 M169.3 658.6V667.2 M193 650.5V643.8 M193 650.5V670.5 M216.7 646.4V639.6 M216.7 646.4V675.5 M240.4 626.7V620.9 M240.4 626.7V638.1" stroke="#00c800" stroke-width="1.05" fill="none"/><path d="M71.5 672.9H77.5 M71.5 709.4H77.5 M142.6 662.6H148.6 M166.3 652.6H172.3 M166.3 667.2H172.3 M190 643.8H196 M190 670.5H196 M213.7 639.6H219.7 M213.7 675.5H219.7 M237.4 620.9H243.4 M237.4 638.1H243.4" stroke="#00c800" stroke-width="1.3" fill="none"/><polyline points="74.5,680.1 98.2,673.2 121.9,675.3 145.6,668.2 169.3,658.6 193,650.5 216.7,646.4 240.4,626.7" stroke="#00c800" stroke-width="1.25" fill="none" stroke-linejoin="round"/><rect x="71.3" y="676.9" width="6.4" height="6.4" fill="#00c800"/><rect x="95" y="670" width="6.4" height="6.4" fill="#00c800"/><rect x="118.7" y="672.1" width="6.4" height="6.4" fill="#00c800"/><rect x="142.4" y="665" width="6.4" height="6.4" fill="#00c800"/><rect x="166.1" y="655.4" width="6.4" height="6.4" fill="#00c800"/><rect x="189.8" y="647.3" width="6.4" height="6.4" fill="#00c800"/><rect x="213.5" y="643.2" width="6.4" height="6.4" fill="#00c800"/><rect x="237.2" y="623.5" width="6.4" height="6.4" fill="#00c800"/><path d="M74.5 686.7V692 M98.2 677.8V670.7 M98.2 677.8V723.9 M121.9 684.6V679.4 M121.9 684.6V693.5 M145.6 681.7V675.2 M145.6 681.7V700.4 M169.3 672.6V667.2 M169.3 672.6V683.3 M193 657.8V654.2 M193 657.8V663.4 M216.7 654.5V648.5 M216.7 654.5V667.8 M240.4 630.9V626 M240.4 630.9V644.5" stroke="#ff0000" stroke-width="1.05" fill="none"/><path d="M71.5 692H77.5 M95.2 670.7H101.2 M95.2 723.9H101.2 M118.9 679.4H124.9 M118.9 693.5H124.9 M142.6 675.2H148.6 M142.6 700.4H148.6 M166.3 667.2H172.3 M166.3 683.3H172.3 M190 654.2H196 M190 663.4H196 M213.7 648.5H219.7 M213.7 667.8H219.7 M237.4 626H243.4 M237.4 644.5H243.4" stroke="#ff0000" stroke-width="1.3" fill="none"/><polyline points="74.5,686.7 98.2,677.8 121.9,684.6 145.6,681.7 169.3,672.6 193,657.8 216.7,654.5 240.4,630.9" stroke="#ff0000" stroke-width="1.25" fill="none" stroke-linejoin="round"/><circle cx="74.5" cy="686.7" r="3.4" fill="#ff0000"/><circle cx="98.2" cy="677.8" r="3.4" fill="#ff0000"/><circle cx="121.9" cy="684.6" r="3.4" fill="#ff0000"/><circle cx="145.6" cy="681.7" r="3.4" fill="#ff0000"/><circle cx="169.3" cy="672.6" r="3.4" fill="#ff0000"/><circle cx="193" cy="657.8" r="3.4" fill="#ff0000"/><circle cx="216.7" cy="654.5" r="3.4" fill="#ff0000"/><circle cx="240.4" cy="630.9" r="3.4" fill="#ff0000"/></g>
<g><g transform="translate(438.1,584) scale(0.95,1.04)"><text x="-0.89" y="0" font-size="21.6">C</text></g><g transform="translate(452.6,584) scale(1,1.04)"><text x="-0.76" y="0" font-size="21.6">2</text></g><path d="M354.5 596.7V744.5" stroke="#000" stroke-width="1.6" fill="none"/><path d="M348.1 744.5H545" stroke="#000" stroke-width="1.6" fill="none"/><path d="M348.1 597.5H354.5M348.1 622H354.5M348.1 646.5H354.5M348.1 671H354.5M348.1 695.5H354.5M348.1 720H354.5M366.5 744.5V750.7M390.2 744.5V750.7M413.9 744.5V750.7M437.6 744.5V750.7M461.3 744.5V750.7M485 744.5V750.7M508.7 744.5V750.7M532.4 744.5V750.7" stroke="#000" stroke-width="1.5" fill="none"/><g transform="translate(346.2,601.7) scale(1,1.04)"><text x="-32.41" y="0" font-size="10.6"> 0,000</text><path class="o" d="M367 0H230V517Q155 447 53 413V538Q106 555 169 604Q232 653 256 716H367Z" transform="translate(-32.41,0) scale(0.01060,-0.01019)"/></g><g transform="translate(346.2,626.2) scale(1,1.04)"><text x="-23.57" y="0" font-size="10.6"> 000</text><path class="o" d="M367 0H230V517Q155 447 53 413V538Q106 555 169 604Q232 653 256 716H367Z" transform="translate(-23.57,0) scale(0.01060,-0.01019)"/></g><g transform="translate(346.2,650.7) scale(1,1.04)"><text x="-17.68" y="0" font-size="10.6"> 00</text><path class="o" d="M367 0H230V517Q155 447 53 413V538Q106 555 169 604Q232 653 256 716H367Z" transform="translate(-17.68,0) scale(0.01060,-0.01019)"/></g><g transform="translate(346.2,675.2) scale(1,1.04)"><text x="-11.79" y="0" font-size="10.6"> 0</text><path class="o" d="M367 0H230V517Q155 447 53 413V538Q106 555 169 604Q232 653 256 716H367Z" transform="translate(-11.79,0) scale(0.01060,-0.01019)"/></g><g transform="translate(346.2,699.7) scale(1,1.04)"><text x="-5.89" y="0" font-size="10.6"> </text><path class="o" d="M367 0H230V517Q155 447 53 413V538Q106 555 169 604Q232 653 256 716H367Z" transform="translate(-5.89,0) scale(0.01060,-0.01019)"/></g><g transform="translate(346.2,724.2) scale(1,1.04)"><text x="-14.73" y="0" font-size="10.6">0. </text><path class="o" d="M367 0H230V517Q155 447 53 413V538Q106 555 169 604Q232 653 256 716H367Z" transform="translate(-5.89,0) scale(0.01060,-0.01019)"/></g><g transform="translate(346.2,748.7) scale(1,1.04)"><text x="-20.63" y="0" font-size="10.6">0.0 </text><path class="o" d="M367 0H230V517Q155 447 53 413V538Q106 555 169 604Q232 653 256 716H367Z" transform="translate(-5.89,0) scale(0.01060,-0.01019)"/></g><g transform="translate(366.5,762.3) scale(1,1.04)"><text x="-7.37" y="0" font-size="10.6"> .5</text><path class="o" d="M367 0H230V517Q155 447 53 413V538Q106 555 169 604Q232 653 256 716H367Z" transform="translate(-7.37,0) scale(0.01060,-0.01019)"/></g><g transform="translate(390.2,762.3) scale(1,1.04)"><text x="-2.95" y="0" font-size="10.6">3</text></g><g transform="translate(413.9,762.3) scale(1,1.04)"><text x="-2.95" y="0" font-size="10.6">6</text></g><g transform="translate(437.6,762.3) scale(1,1.04)"><text x="-2.95" y="0" font-size="10.6">9</text></g><g transform="translate(461.3,762.3) scale(1,1.04)"><text x="-5.89" y="0" font-size="10.6"> 2</text><path class="o" d="M367 0H230V517Q155 447 53 413V538Q106 555 169 604Q232 653 256 716H367Z" transform="translate(-5.89,0) scale(0.01060,-0.01019)"/></g><g transform="translate(485,762.3) scale(1,1.04)"><text x="-5.89" y="0" font-size="10.6"> 8</text><path class="o" d="M367 0H230V517Q155 447 53 413V538Q106 555 169 604Q232 653 256 716H367Z" transform="translate(-5.89,0) scale(0.01060,-0.01019)"/></g><g transform="translate(508.7,762.3) scale(1,1.04)"><text x="-5.89" y="0" font-size="10.6">24</text></g><g transform="translate(532.4,762.3) scale(1,1.04)"><text x="-5.89" y="0" font-size="10.6">48</text></g><text x="0" y="0" font-size="12.1" text-anchor="middle" transform="translate(449.75,780.5) scale(1,1.04)">time P.i. (h)</text><text x="0" y="0" font-size="12.1" text-anchor="middle" transform="translate(305,671) rotate(-90) scale(1,1.04)">genomic copies/ µl</text><path d="M390.2 709.1V704.4 M390.2 709.1V723.7 M437.6 712.8V739 M485 702.7V697 M485 702.7V720.9 M508.7 700V720.2 M532.4 674.5V669.4 M532.4 674.5V683.4" stroke="#8c8c8c" stroke-width="1.05" fill="none"/><path d="M387.2 704.4H393.2 M387.2 723.7H393.2 M434.6 739H440.6 M482 697H488 M482 720.9H488 M505.7 720.2H511.7 M529.4 669.4H535.4 M529.4 683.4H535.4" stroke="#8c8c8c" stroke-width="1.3" fill="none"/><polyline points="366.5,723 390.2,709.1 413.9,707.5 437.6,712.8 461.3,713.8 485,702.7 508.7,700 532.4,674.5" stroke="#8c8c8c" stroke-width="1.25" fill="none" stroke-linejoin="round"/><path d="M364 721.2L369 721.2L366.5 725.4Z" fill="#8c8c8c"/><path d="M387.7 707.3L392.7 707.3L390.2 711.5Z" fill="#8c8c8c"/><path d="M411.4 705.7L416.4 705.7L413.9 709.9Z" fill="#8c8c8c"/><path d="M435.1 711L440.1 711L437.6 715.2Z" fill="#8c8c8c"/><path d="M458.8 712L463.8 712L461.3 716.2Z" fill="#8c8c8c"/><path d="M482.5 700.9L487.5 700.9L485 705.1Z" fill="#8c8c8c"/><path d="M506.2 698.2L511.2 698.2L508.7 702.4Z" fill="#8c8c8c"/><path d="M529.9 672.7L534.9 672.7L532.4 676.9Z" fill="#8c8c8c"/><path d="M366.5 712.4V706.3 M366.5 712.4V725.4 M390.2 714V709 M390.2 714V719.7 M413.9 707.5V716.4 M437.6 713.3V708.4 M461.3 714.2V705.6 M461.3 714.2V732.3 M485 704.4V698.3 M485 704.4V712.5 M508.7 697.3V702.9 M532.4 674V704.8" stroke="#0000ff" stroke-width="1.05" fill="none"/><path d="M363.5 706.3H369.5 M363.5 725.4H369.5 M387.2 709H393.2 M387.2 719.7H393.2 M410.9 716.4H416.9 M434.6 708.4H440.6 M458.3 705.6H464.3 M458.3 732.3H464.3 M482 698.3H488 M482 712.5H488 M505.7 702.9H511.7 M529.4 704.8H535.4" stroke="#0000ff" stroke-width="1.3" fill="none"/><polyline points="366.5,712.4 390.2,714 413.9,707.5 437.6,713.3 461.3,714.2 485,704.4 508.7,697.3 532.4,674" stroke="#0000ff" stroke-width="1.25" fill="none" stroke-linejoin="round"/><path d="M366.5 709.3L369.8 714.7L363.2 714.7Z" fill="#0000ff"/><path d="M390.2 710.9L393.5 716.3L386.9 716.3Z" fill="#0000ff"/><path d="M413.9 704.4L417.2 709.8L410.6 709.8Z" fill="#0000ff"/><path d="M437.6 710.2L440.9 715.6L434.3 715.6Z" fill="#0000ff"/><path d="M461.3 711.1L464.6 716.5L458 716.5Z" fill="#0000ff"/><path d="M485 701.3L488.3 706.7L481.7 706.7Z" fill="#0000ff"/><path d="M508.7 694.2L512 699.6L505.4 699.6Z" fill="#0000ff"/><path d="M532.4 670.9L535.7 676.3L529.1 676.3Z" fill="#0000ff"/><path d="M366.5 712V705.8 M366.5 712V729.2 M390.2 695.7V692 M532.4 662.2V655.7" stroke="#00c800" stroke-width="1.05" fill="none"/><path d="M363.5 705.8H369.5 M363.5 729.2H369.5 M387.2 692H393.2 M529.4 655.7H535.4" stroke="#00c800" stroke-width="1.3" fill="none"/><polyline points="366.5,712 390.2,695.7 413.9,695.2 437.6,698 461.3,697 485,685.5 508.7,686.4 532.4,662.2" stroke="#00c800" stroke-width="1.25" fill="none" stroke-linejoin="round"/><rect x="363.3" y="708.8" width="6.4" height="6.4" fill="#00c800"/><rect x="387" y="692.5" width="6.4" height="6.4" fill="#00c800"/><rect x="410.7" y="692" width="6.4" height="6.4" fill="#00c800"/><rect x="434.4" y="694.8" width="6.4" height="6.4" fill="#00c800"/><rect x="458.1" y="693.8" width="6.4" height="6.4" fill="#00c800"/><rect x="481.8" y="682.3" width="6.4" height="6.4" fill="#00c800"/><rect x="505.5" y="683.2" width="6.4" height="6.4" fill="#00c800"/><rect x="529.2" y="659" width="6.4" height="6.4" fill="#00c800"/><path d="M390.2 699.1V690.3 M413.9 702.6V695.5 M413.9 702.6V723.3 M437.6 704.9V701.3 M437.6 704.9V710.5 M461.3 702V696.5 M461.3 702V711.4 M485 694.9V689.1 M485 694.9V707.4 M508.7 692.2V686.2 M508.7 692.2V706.2 M532.4 666.3V658.2 M532.4 666.3V719" stroke="#ff0000" stroke-width="1.05" fill="none"/><path d="M387.2 690.3H393.2 M410.9 695.5H416.9 M410.9 723.3H416.9 M434.6 701.3H440.6 M434.6 710.5H440.6 M458.3 696.5H464.3 M458.3 711.4H464.3 M482 689.1H488 M482 707.4H488 M505.7 686.2H511.7 M505.7 706.2H511.7 M529.4 658.2H535.4 M529.4 719H535.4" stroke="#ff0000" stroke-width="1.3" fill="none"/><polyline points="366.5,701.6 390.2,699.1 413.9,702.6 437.6,704.9 461.3,702 485,694.9 508.7,692.2 532.4,666.3" stroke="#ff0000" stroke-width="1.25" fill="none" stroke-linejoin="round"/><circle cx="366.5" cy="701.6" r="3.4" fill="#ff0000"/><circle cx="390.2" cy="699.1" r="3.4" fill="#ff0000"/><circle cx="413.9" cy="702.6" r="3.4" fill="#ff0000"/><circle cx="437.6" cy="704.9" r="3.4" fill="#ff0000"/><circle cx="461.3" cy="702" r="3.4" fill="#ff0000"/><circle cx="485" cy="694.9" r="3.4" fill="#ff0000"/><circle cx="508.7" cy="692.2" r="3.4" fill="#ff0000"/><circle cx="532.4" cy="666.3" r="3.4" fill="#ff0000"/></g>
</svg></body></html>
